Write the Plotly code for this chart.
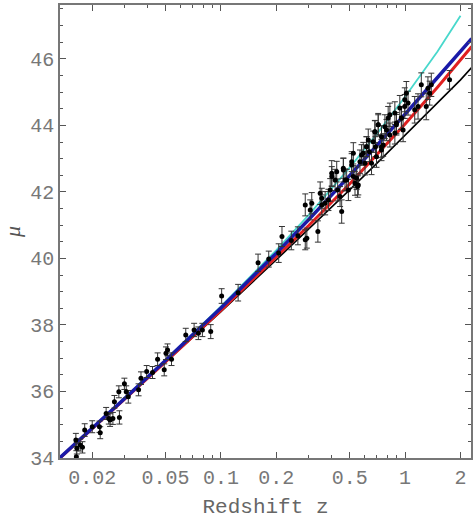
import plotly.graph_objects as go

# ---- supernova data ----
z_sn = [0.0164, 0.0165, 0.0163, 0.0172, 0.0177, 0.0182, 0.0200, 0.0219, 0.0221, 0.0238,
        0.0246, 0.0250, 0.0259, 0.0281, 0.0264, 0.0279, 0.0299, 0.0306, 0.0314, 0.0357,
        0.0368, 0.0395, 0.0425, 0.0453, 0.0492, 0.0503, 0.0513, 0.0539, 0.0644,
        0.0715, 0.0754, 0.0793, 0.0880, 0.1009, 0.1240, 0.1591, 0.1818, 0.2059, 0.2145,
        0.2411, 0.2617, 0.2870,
        0.2927, 0.3361, 0.2870, 0.3054, 0.3114, 0.3459, 0.3529, 0.3681, 0.3996, 0.4169,
        0.4305, 0.4526, 0.4624, 0.4817, 0.5127, 0.5347, 0.5571, 0.5689, 0.5929, 0.6175,
        0.6574, 0.6909, 0.7446,
        0.3530, 0.3836, 0.3920, 0.4436, 0.4920, 0.5236, 0.6058, 0.6400, 0.6996, 0.7605,
        0.7146, 0.6860, 0.8093, 0.8267, 0.9363, 0.9550, 0.9963, 1.016, 1.128, 1.225,
        1.303, 1.360, 1.388, 1.744,
        0.7446, 0.777, 0.8799, 0.8975, 0.9754, 1.038, 1.176, 1.331,
        0.400, 0.4253, 0.462, 0.472, 0.513, 0.5236, 0.5455, 0.5803, 0.6175, 0.631,
        0.671, 0.686, 0.7146, 0.7446, 0.7922, 0.827, 0.880, 0.8975, 0.955, 0.996, 0.5524]
mu_sn = [34.04, 34.29, 34.54, 34.39, 34.32, 34.84, 34.94, 34.94, 34.76, 35.34,
         35.19, 35.14, 35.19, 35.22, 35.69, 35.99, 36.23, 35.99, 35.84, 36.05,
         36.40, 36.60, 36.57, 36.97, 36.65, 37.15, 37.25, 36.97, 37.70,
         37.85, 37.75, 37.85, 37.80, 38.87, 38.97, 39.87, 39.98, 40.16, 40.66,
         40.54, 40.68, 40.56,
         40.61, 40.81, 41.61, 41.46, 41.66, 41.96, 41.81, 41.66, 42.56, 42.36,
         42.06, 41.41, 42.66, 42.36, 42.81, 42.26, 42.21, 42.91, 43.16, 43.36,
         42.86, 43.36, 43.26,
         41.61, 41.76, 42.06, 41.86, 42.06, 42.46, 42.86, 43.21, 43.06, 43.41,
         44.02, 43.81, 44.22, 43.71, 44.52, 44.22, 44.77, 44.97, 44.47, 45.22,
         44.57, 44.97, 45.22, 45.37,
         43.66, 43.96, 44.37, 44.07, 43.86, 44.67, 44.57, 45.12,
         42.46, 42.61, 42.71, 42.36, 42.91, 43.16, 42.41, 43.11, 43.36, 43.56,
         43.51, 43.81, 44.02, 43.36, 43.86, 44.32, 43.77, 44.02, 44.22, 44.57, 42.16]
err_sn = [0.18, 0.17, 0.20, 0.18, 0.17, 0.19, 0.18, 0.17, 0.18, 0.18,
          0.17, 0.19, 0.18, 0.20, 0.19, 0.18, 0.17, 0.18, 0.19, 0.18,
          0.19, 0.18, 0.18, 0.19, 0.18, 0.19, 0.18, 0.19, 0.20,
          0.20, 0.19, 0.20, 0.21, 0.22, 0.25, 0.26, 0.24, 0.28, 0.30,
          0.28, 0.27, 0.30,
          0.30, 0.32, 0.33, 0.30, 0.32, 0.34, 0.30, 0.35, 0.38, 0.32,
          0.33, 0.35, 0.36, 0.32, 0.34, 0.36, 0.30, 0.35, 0.33, 0.30,
          0.34, 0.30, 0.32,
          0.30, 0.32, 0.34, 0.30, 0.32, 0.33, 0.35, 0.30, 0.32, 0.34,
          0.34, 0.33, 0.35, 0.36, 0.38, 0.34, 0.36, 0.35, 0.40, 0.36,
          0.40, 0.36, 0.35, 0.28,
          0.33, 0.36, 0.34, 0.32, 0.35, 0.36, 0.38, 0.34,
          0.30, 0.31, 0.30, 0.33, 0.30, 0.32, 0.34, 0.31, 0.30, 0.33,
          0.32, 0.34, 0.30, 0.33, 0.32, 0.35, 0.33, 0.31, 0.34, 0.36, 0.32]

# ---- model curves ----
z_model = [0.013, 0.02, 0.03, 0.05, 0.1, 0.2, 0.3, 0.5, 0.7, 1.0, 1.5, 2.0, 2.3]
mu_black = [33.93, 34.87, 35.76, 36.87, 38.40, 39.96, 40.88, 42.06, 42.85, 43.70, 44.67, 45.37, 45.74]
mu_red = [33.94, 34.88, 35.77, 36.89, 38.44, 40.03, 40.99, 42.24, 43.10, 44.04, 45.15, 45.96, 46.37]
mu_blue = [33.95, 34.89, 35.79, 36.93, 38.51, 40.16, 41.17, 42.49, 43.38, 44.34, 45.44, 46.22, 46.61]
z_cyan = [0.013, 0.02, 0.03, 0.05, 0.1, 0.2, 0.3, 0.5, 0.7, 1.0, 1.5, 2.0]
mu_cyan = [33.95, 34.90, 35.80, 36.95, 38.56, 40.25, 41.31, 42.73, 43.73, 44.86, 46.22, 47.30]

x_ticks = [0.02, 0.05, 0.1, 0.2, 0.5, 1, 2]
x_ticklabels = ["0.02", "0.05", "0.1", "0.2", "0.5", "1", "2"]
x_minor = [0.02, 0.03, 0.04, 0.05, 0.06, 0.07, 0.08, 0.09, 0.1, 0.2, 0.3, 0.4, 0.5,
           0.6, 0.7, 0.8, 0.9, 1, 2]
y_ticks = [34, 36, 38, 40, 42, 44, 46]

fig = go.Figure()
fig.add_trace(go.Scatter(x=z_model, y=mu_black, mode="lines",
                         line=dict(color="black", width=1.6), hoverinfo="skip"))
fig.add_trace(go.Scatter(x=z_cyan, y=mu_cyan, mode="lines",
                         line=dict(color="#48d8cc", width=1.8), hoverinfo="skip"))
fig.add_trace(go.Scatter(x=z_model, y=mu_red, mode="lines",
                         line=dict(color="#e02020", width=3), hoverinfo="skip"))
fig.add_trace(go.Scatter(x=z_model, y=mu_blue, mode="lines",
                         line=dict(color="#1a1aa8", width=3.5), hoverinfo="skip"))
fig.add_trace(go.Scatter(
    x=z_sn, y=mu_sn, mode="markers",
    marker=dict(color="black", size=5),
    error_y=dict(type="data", array=err_sn, visible=True, color="#333333",
                 thickness=1, width=3)))

mono = "Liberation Mono, Courier New, monospace"
axis_font = dict(family=mono, size=20, color="#777777")
fig.update_layout(
    width=474, height=521,
    margin=dict(l=60, r=1, t=5, b=63),
    paper_bgcolor="white", plot_bgcolor="white",
    showlegend=False,
    xaxis=dict(
        type="log", range=[-1.874, 0.358],
        tickmode="array", tickvals=x_ticks, ticktext=x_ticklabels,
        ticks="inside", ticklen=6, tickcolor="#555555", tickwidth=1,
        minor=dict(tickmode="array", tickvals=x_minor, ticks="inside", ticklen=3,
                   tickcolor="#555555", showgrid=False),
        showgrid=False, zeroline=False,
        showline=True, linecolor="#777777", linewidth=1.5, mirror="allticks",
        tickfont=axis_font,
        title=dict(text="Redshift z", font=dict(family=mono, size=21, color="#666666"),
                   standoff=10),
    ),
    yaxis=dict(
        range=[34, 47.62],
        tickmode="array", tickvals=y_ticks,
        ticks="inside", ticklen=6, tickcolor="#555555", tickwidth=1,
        minor=dict(dtick=0.5, ticks="inside", ticklen=3, tickcolor="#555555", showgrid=False),
        showgrid=False, zeroline=False,
        showline=True, linecolor="#777777", linewidth=1.5, mirror="allticks",
        tickfont=axis_font,
        title=dict(text="<i>μ</i>", font=dict(family="Liberation Serif, Times New Roman, serif",
                                               size=22, color="#555555"), standoff=8),
    ),
)

fig.write_html("out.html", config={"displayModeBar": False},
               post_script="document.body.style.margin='0';document.body.style.overflow='hidden';")
